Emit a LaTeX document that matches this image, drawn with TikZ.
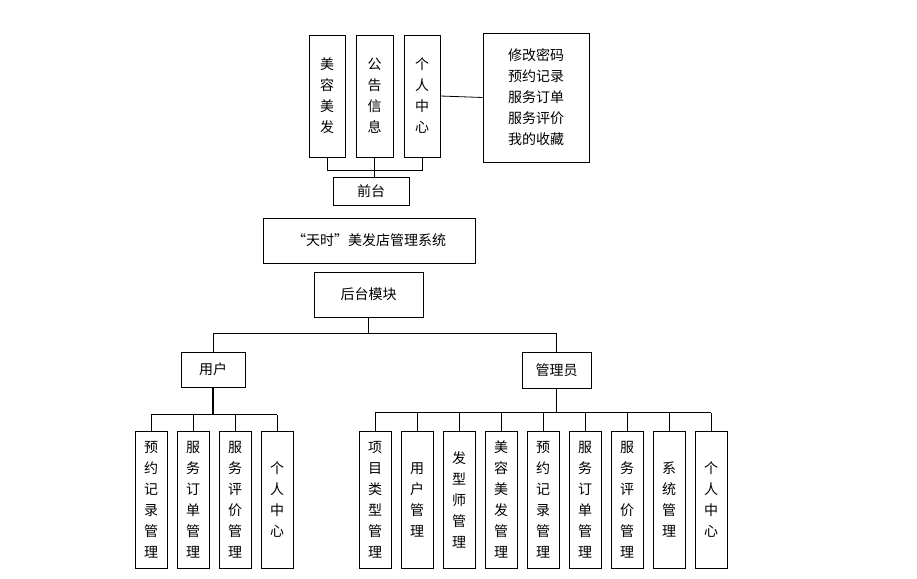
\documentclass[tikz,border=0pt]{standalone}
\usepackage{fontspec}
\newfontfamily\cjk{Noto Sans CJK SC}
\begin{document}
\begin{tikzpicture}[x=1pt,y=-1pt,
  bx/.style={draw,line width=0.8pt,inner sep=0pt,font=\cjk\fontsize{14}{21}\selectfont,align=center},
  ln/.style={line width=0.8pt},
  tk/.style={line width=1.6pt}]
\useasboundingbox (0,0) rectangle (917,578);
\newcommand\bxr[6]{\node[bx,minimum width=#3-#1,minimum height=#4-#2] (#5) at ({(#1+#3)/2},{(#2+#4)/2}) {#6};}
\bxr{309}{35}{345}{157}{t1}{美\\容\\美\\发}
\bxr{356}{35}{393}{157}{t2}{公\\告\\信\\息}
\bxr{404}{35}{440}{157}{t3}{个\\人\\中\\心}
\node[bx,minimum width=106,minimum height=129,align=left] (t4) at (536,97.5) {修改密码\\预约记录\\服务订单\\服务评价\\我的收藏};
\bxr{333}{177}{409}{205}{qt}{前台}
\bxr{263}{218}{475}{263}{sys}{“天时”美发店管理系统}
\bxr{314}{272}{423}{317}{ht}{后台模块}
\bxr{181}{352}{245}{387}{yh}{用户}
\bxr{522}{352}{591}{388}{gly}{管理员}
\draw[ln] (t3.east) -- (t4.west);
\coordinate (tb) at (0,170);
\draw[ln] (t1.south) -- (t1.south|-tb) -- (t3.south|-tb) -- (t3.south);
\draw[ln] (t2.south) -- (t2.south|-tb);
\draw[ln] (qt.north-|t2.south) -- (t2.south|-tb);
\coordinate (mb) at (0,333);
\draw[ln] (ht.south) -- (ht.south|-mb);
\draw[ln] (yh.north) -- (yh.north|-mb) -- (gly.north|-mb) -- (gly.north);
% user children
\foreach \i/\t [count=\k] in {135/{预\\约\\记\\录\\管\\理},177/{服\\务\\订\\单\\管\\理},219/{服\\务\\评\\价\\管\\理},261/{个\\人\\中\\心}}{
  \node[bx,minimum width=32,minimum height=137] (u\k) at (\i+16,499.5) {\t};
  \draw[ln] (u\k.north) -- ++(0,-16);
}
\draw[ln] (u1.north)++(0,-16) -- ([yshift=16pt]u4.north);
\draw[tk] (yh.south) -- (yh.south|-0,415);
% admin children
\foreach \i/\t [count=\k] in {359/{项\\目\\类\\型\\管\\理},401/{用\\户\\管\\理},443/{发\\型\\师\\管\\理},485/{美\\容\\美\\发\\管\\理},527/{预\\约\\记\\录\\管\\理},569/{服\\务\\订\\单\\管\\理},611/{服\\务\\评\\价\\管\\理},653/{系\\统\\管\\理},695/{个\\人\\中\\心}}{
  \node[bx,minimum width=32,minimum height=137] (a\k) at (\i+16,499.5) {\t};
  \draw[ln] (a\k.north) -- ++(0,-18);
}
\draw[ln] ([yshift=18pt]a1.north) -- ([yshift=18pt]a9.north);
\draw[tk] (gly.south) -- (gly.south|-0,413);
\end{tikzpicture}
\end{document}
